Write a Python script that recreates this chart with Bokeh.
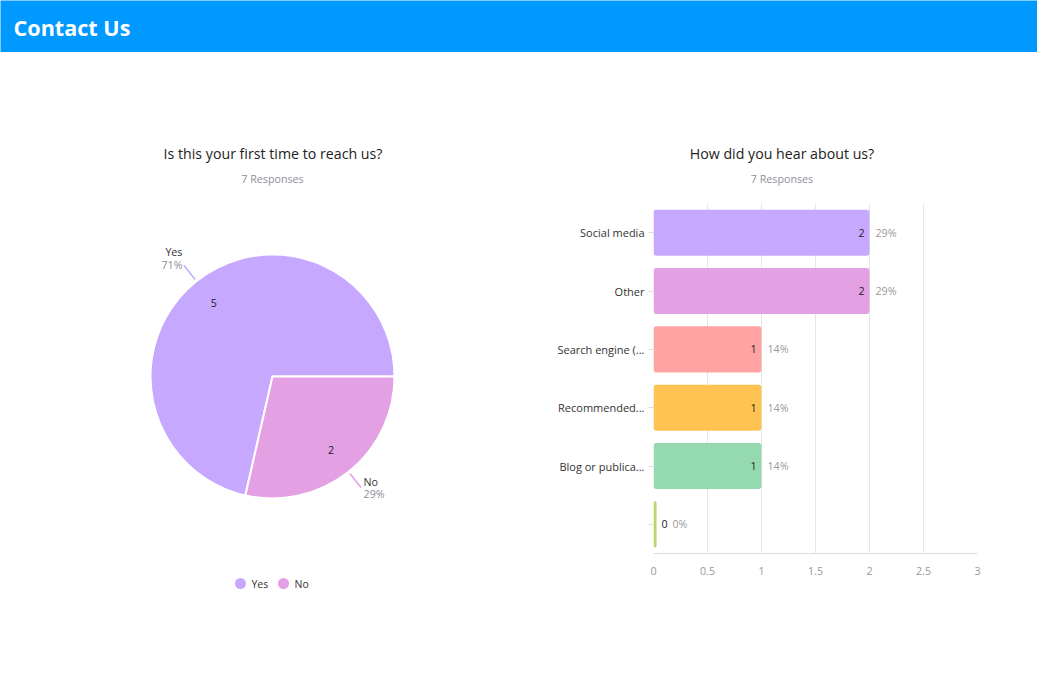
import math
from bokeh.plotting import figure
from bokeh.layouts import column, row
from bokeh.models import Range1d, FactorRange, FixedTicker, ColumnDataSource
from bokeh.core.properties import value
from bokeh.embed import file_html
from bokeh.resources import INLINE

# ---------------- data ----------------
header_title = "Contact Us"

pie_title = "Is this your first time to reach us?"
pie_subtitle = "7 Responses"
pie_labels = ["Yes", "No"]
pie_values = [5, 2]
pie_colors = ["#C6A8FE", "#E3A0E3"]

bar_title = "How did you hear about us?"
bar_subtitle = "7 Responses"
bar_labels = ["Social media", "Other", "Search engine (...", "Recommended...", "Blog or publica...", " "]
bar_values = [2, 2, 1, 1, 1, 0]
bar_colors = ["#C6A8FE", "#E3A0E3", "#FFA3A3", "#FFC352", "#95D9AE", "#B8D46B"]
x_ticks = [0, 0.5, 1, 1.5, 2, 2.5, 3]

FONT = "Open Sans"
DARK = "#222222"
GRAY = "#8E8E9A"
W, H = 1037, 677
SMALL = "10.7px"
TITLE = "14.2px"


def blank(fig):
    fig.axis.visible = False
    fig.grid.visible = False
    fig.outline_line_color = None
    return fig


# ---------------- header ----------------
hdr = figure(width=W, height=52, x_range=Range1d(0, W), y_range=Range1d(52, 0),
             output_backend="svg", toolbar_location=None, min_border=0)
blank(hdr)
hdr.background_fill_color = "#0099FF"
hdr.border_fill_color = "#0099FF"
hdr.text(x=[13], y=[27], text=[header_title], text_font=value(FONT), text_font_style="bold",
         text_font_size="21.6px", text_color="white", text_baseline="middle", text_align="left")

# ---------------- pie ----------------
cx, cy, r = 272, -376, 122
pie = figure(width=526, height=H - 52, x_range=Range1d(0, 526), y_range=Range1d(-H, -52),
             output_backend="svg", toolbar_location=None, min_border=0)
blank(pie)
pie.text(x=[272.5], y=[-153], text=[pie_title], text_font=value(FONT), text_font_size=TITLE,
         text_color=DARK, text_align="center", text_baseline="middle")
pie.text(x=[272], y=[-178], text=[pie_subtitle], text_font=value(FONT), text_font_size=SMALL,
         text_color=GRAY, text_align="center", text_baseline="middle")

total = sum(pie_values)
starts, ends, acc = [], [], 0.0
for v in pie_values:
    starts.append(acc / total * 2 * math.pi)
    acc += v
    ends.append(acc / total * 2 * math.pi)
pie.wedge(x=cx, y=cy, radius=r, start_angle=starts, end_angle=ends,
          fill_color=pie_colors, line_color="white", line_width=2)

for lab, v, a0, a1, col in zip(pie_labels, pie_values, starts, ends, pie_colors):
    m = (a0 + a1) / 2
    c, s = math.cos(m), math.sin(m)
    pie.text(x=[cx + 0.77 * r * c], y=[cy + 0.77 * r * s], text=[str(v)], text_font=value(FONT),
             text_font_size=SMALL, text_color=DARK, text_align="center", text_baseline="middle")
    x0, y0 = cx + (r + 2) * c, cy + (r + 2) * s
    x1, y1 = cx + (r + 20) * c, cy + (r + 20) * s
    pie.line(x=[x0, x1], y=[y0, y1], line_color=col, line_width=1.5)
    pct = f"{round(v / total * 100)}%"
    if c < 0:
        pie.text(x=[x1 - 1.5], y=[y1], y_offset=-13, text=[lab], text_font=value(FONT),
                 text_font_size=SMALL, text_color="#333333", text_align="right", text_baseline="middle")
        pie.text(x=[x1 - 1.5], y=[y1], text=[pct], text_font=value(FONT),
                 text_font_size=SMALL, text_color=GRAY, text_align="right", text_baseline="middle")
    else:
        pie.text(x=[x1 + 2.5], y=[y1], y_offset=-6, text=[lab], text_font=value(FONT),
                 text_font_size=SMALL, text_color="#333333", text_align="left", text_baseline="middle")
        pie.text(x=[x1 + 2.5], y=[y1], y_offset=6, text=[pct], text_font=value(FONT),
                 text_font_size=SMALL, text_color=GRAY, text_align="left", text_baseline="middle")

# legend
legend_x = [240, 283]
pie.scatter(x=legend_x, y=[-583] * 2, size=11, marker="circle", fill_color=pie_colors, line_color=None)
pie.text(x=[lx + 11 for lx in legend_x], y=[-583] * 2, text=pie_labels, text_font=value(FONT),
         text_font_size="10.5px", text_color="#333333", text_align="left", text_baseline="middle")

# ---------------- bar titles ----------------
# this plot's frame is aligned by the column layout with the bar chart frame (x 653..977)
bt = figure(width=W - 526, height=151, x_range=Range1d(653, 977), y_range=Range1d(203, 52),
            output_backend="svg", toolbar_location=None, min_border=0)
blank(bt)
bt.text(x=[781.5], y=[153], text=[bar_title], text_font=value(FONT), text_font_size=TITLE,
        text_color=DARK, text_align="center", text_baseline="middle")
bt.text(x=[781.5], y=[178], text=[bar_subtitle], text_font=value(FONT), text_font_size=SMALL,
        text_color=GRAY, text_align="center", text_baseline="middle")

# ---------------- bars ----------------
bar = figure(width=W - 526, height=H - 203, y_range=FactorRange(factors=list(reversed(bar_labels))),
             x_range=Range1d(0, 3), output_backend="svg", toolbar_location=None,
             min_border_left=127, min_border_right=W - 977, min_border_top=0,
             min_border_bottom=H - 203 - 350)
bar.outline_line_color = None
bar.ygrid.grid_line_color = None
bar.xgrid.ticker = FixedTicker(ticks=x_ticks)
bar.xgrid.grid_line_color = "#E6E6EA"
bar.xaxis.ticker = FixedTicker(ticks=x_ticks)
bar.xaxis.axis_line_color = "#DCDCE0"
bar.xaxis.major_tick_line_color = None
bar.xaxis.minor_tick_line_color = None
bar.xaxis.major_label_text_color = "#999999"
bar.xaxis.major_label_text_font = FONT
bar.xaxis.major_label_text_font_size = SMALL
bar.xaxis.major_label_standoff = 7
bar.yaxis.axis_line_color = None
bar.yaxis.major_tick_line_color = "#DCDCE0"
bar.yaxis.major_tick_out = 5
bar.yaxis.major_tick_in = 0
bar.yaxis.major_label_text_color = "#333333"
bar.yaxis.major_label_text_font = FONT
bar.yaxis.major_label_text_font_size = "11px"
bar.yaxis.major_label_standoff = 4

min_vis = 0.028
src = ColumnDataSource(dict(y=bar_labels, right=[max(v, min_vis) for v in bar_values],
                            color=bar_colors))
bar.hbar(y="y", left=0, right="right", height=0.79, fill_color="color", line_color=None,
         border_radius=3, source=src)

btotal = sum(bar_values)
pos = [i for i, v in enumerate(bar_values) if v > 0]
zer = [i for i, v in enumerate(bar_values) if v == 0]
for idx, coff, poff, calign in ((pos, -5, 6, "right"), (zer, 8, 19, "left")):
    ys = [bar_labels[i] for i in idx]
    xs = [bar_values[i] for i in idx]
    bar.text(x=xs, y=ys, x_offset=coff, text=[str(bar_values[i]) for i in idx], text_font=value(FONT),
             text_font_size=SMALL, text_color=DARK, text_align=calign, text_baseline="middle")
    bar.text(x=xs, y=ys, x_offset=poff, text=[f"{round(bar_values[i] / btotal * 100)}%" for i in idx],
             text_font=value(FONT), text_font_size=SMALL, text_color="#999999",
             text_align="left", text_baseline="middle")

layout = column(hdr, row(pie, column(bt, bar)))
open("out.html", "w").write(file_html(layout, INLINE))
